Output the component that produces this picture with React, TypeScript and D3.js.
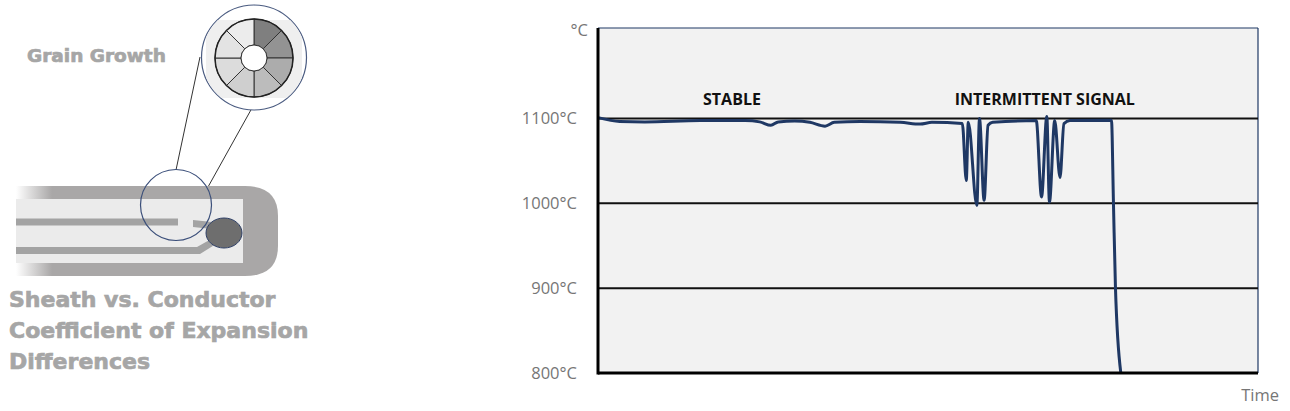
import React from "react";
import * as d3 from "d3";

// readings (time in % of the window, temperature in °C)
const time = [
	0, 3.3, 7.1, 15.5, 22.3, 24.5, 26.2, 27.3, 29.8, 32.1, 34.4, 35.8, 39.7, 45.8, 48.8, 50.6,
	55.2, 55.8, 56.1, 57.4, 57.8, 58.5, 59.1, 59.8, 66.4, 67.2, 68.0, 68.4, 69.2, 70.0, 70.6, 71.5,
	77.8, 78.1, 78.4, 79.2,
];
const temperature = [
	1101, 1096.5, 1096, 1097.5, 1097.5, 1096, 1092, 1096, 1097, 1095.5, 1091, 1095.5, 1096.5, 1095.5, 1093.5, 1095.5,
	1094, 1027, 1095.5, 997.5, 1100, 1003.5, 1092, 1095.5, 1097.5, 1007.5, 1102.5, 1001.5, 1097.5, 1030.5, 1094, 1097.5,
	1098, 1000, 901.5, 801,
];
const tempTicks = [800, 900, 1000, 1100];
const notes = ["STABLE", "INTERMITTENT SIGNAL"];
const noteTime = [20.3, 67.7];
const noteTemp = 1123;

const W = 1290;
const H = 411;
const plot = { left: 598, right: 1258, top: 28, bottom: 373 };

const x = d3.scaleLinear().domain([0, 100]).range([plot.left, plot.right]);
const y = d3.scaleLinear().domain([800, 1100]).range([plot.bottom, 118.5]);

const navy = "#1f3864";
const labelFont = "'Open Sans', sans-serif";

const GrainRing = ({ cx, cy }) => {
	const shades = ["#7f7f7f", "#939393", "#acacac", "#bcbcbc", "#cfcfcf", "#dcdcdc", "#e3e3e3", "#ececec"];
	const arc = d3.arc().innerRadius(13).outerRadius(39);
	return (
		<g transform={`translate(${cx},${cy})`}>
			{shades.map((c, i) => (
				<path
					key={i}
					d={arc({ startAngle: (i * Math.PI) / 4, endAngle: ((i + 1) * Math.PI) / 4 }) || ""}
					fill={c}
					stroke="#333"
					strokeWidth={1}
				/>
			))}
			<circle r={39} fill="none" stroke="#222" strokeWidth={1.5} />
			<circle r={13} fill="#fff" stroke="#333" strokeWidth={1} />
		</g>
	);
};

const Illustration = () => (
	<g>
		<defs>
			<linearGradient id="sheathFade" x1="16" x2="52" y1="0" y2="0" gradientUnits="userSpaceOnUse">
				<stop offset="0" stopColor="#ffffff" />
				<stop offset="1" stopColor="#a9a7a7" />
			</linearGradient>
			<clipPath id="bubble">
				<circle cx={254} cy={57.5} r={52} />
			</clipPath>
		</defs>
		{/* zoom bubble */}
		<line x1={176} y1={170} x2={200} y2={57} stroke="#333" strokeWidth={1} />
		<line x1={208} y1={187} x2={252} y2={108} stroke="#333" strokeWidth={1} />
		<circle cx={254} cy={57.5} r={52.5} fill="#fff" stroke="#4a5b80" strokeWidth={1.2} />
		<rect x={206} y={20} width={96} height={78} fill="#efefef" clipPath="url(#bubble)" />
		<GrainRing cx={254} cy={58} />

		{/* sheath */}
		<path d="M16,186 H245 Q278,186 278,216 V246 Q278,276 245,276 H16 Z" fill="url(#sheathFade)" />
		<rect x={16} y={199} width={227} height={64} fill="#ebebeb" />
		<rect x={16} y={218.5} width={162} height={7} fill="#a3a3a3" />
		<polygon points="193,220 212,222 212,229 193,227" fill="#a3a3a3" />
		<polygon points="16,247 197,247 213,238 216,244 200,254 16,254" fill="#a3a3a3" />
		<ellipse cx={224} cy={233} rx={18} ry={15} fill="#6e6e6e" stroke="#2e3f66" strokeWidth={1} />
		<circle cx={176} cy={205} r={35.5} fill="none" stroke="#3b4f7a" strokeWidth={1.2} />

		<g
			fontFamily="'DejaVu Sans', sans-serif"
			fontWeight="bold"
			fill="#a6a6a6"
			stroke="#a6a6a6"
			strokeWidth={0.7}
		>
			<text x={27} y={62} fontSize={18.5}>Grain Growth</text>
			<text x={9} y={307} fontSize={22}>Sheath vs. Conductor</text>
			<text x={9} y={338} fontSize={22}>Coefficient of Expansion</text>
			<text x={9} y={369} fontSize={22}>Differences</text>
		</g>
	</g>
);

export default function App() {
	const line = d3
		.line<number>()
		.x((_, i) => x(time[i]))
		.y((v) => y(v))
		.curve(d3.curveMonotoneX);

	return (
		<svg width={W} height={H} style={{ position: "absolute", left: 0, top: 0 }}>
			<rect width={W} height={H} fill="#fff" />
			<Illustration />

			<rect
				x={plot.left}
				y={plot.top}
				width={plot.right - plot.left}
				height={plot.bottom - plot.top}
				fill="#f2f2f2"
			/>
			{/* frame */}
			<line x1={plot.left} x2={plot.right} y1={plot.top} y2={plot.top} stroke={navy} strokeWidth={1.2} />
			<line x1={plot.right} x2={plot.right} y1={plot.top} y2={plot.bottom} stroke={navy} strokeWidth={1.2} />

			{tempTicks
				.filter((t) => t > 800)
				.map((t) => (
					<line key={t} x1={plot.left} x2={plot.right} y1={y(t)} y2={y(t)} stroke="#111" strokeWidth={2} />
				))}

			<path d={line(temperature) || ""} fill="none" stroke={navy} strokeWidth={3} strokeLinejoin="round" />

			<line x1={plot.left} x2={plot.right} y1={plot.bottom} y2={plot.bottom} stroke="#000" strokeWidth={3} />
			<line x1={plot.left} x2={plot.left} y1={plot.top} y2={plot.bottom + 1.5} stroke="#000" strokeWidth={3} />

			<g fontFamily={labelFont} fill="#767676" fontSize={16.5}>
				{tempTicks.map((t) => (
					<text key={t} x={577} y={y(t)} dy="0.35em" textAnchor="end">
						{t}°C
					</text>
				))}
				<text x={588} y={36} textAnchor="end">°C</text>
				<text x={1279} y={401} textAnchor="end">Time</text>
			</g>

			<g fontFamily={labelFont} fontWeight="bold" fill="#111" fontSize={16}>
				{notes.map((n, i) => (
					<text key={n} x={x(noteTime[i])} y={y(noteTemp)} dy="0.35em" textAnchor="middle">
						{n}
					</text>
				))}
			</g>
		</svg>
	);
}
